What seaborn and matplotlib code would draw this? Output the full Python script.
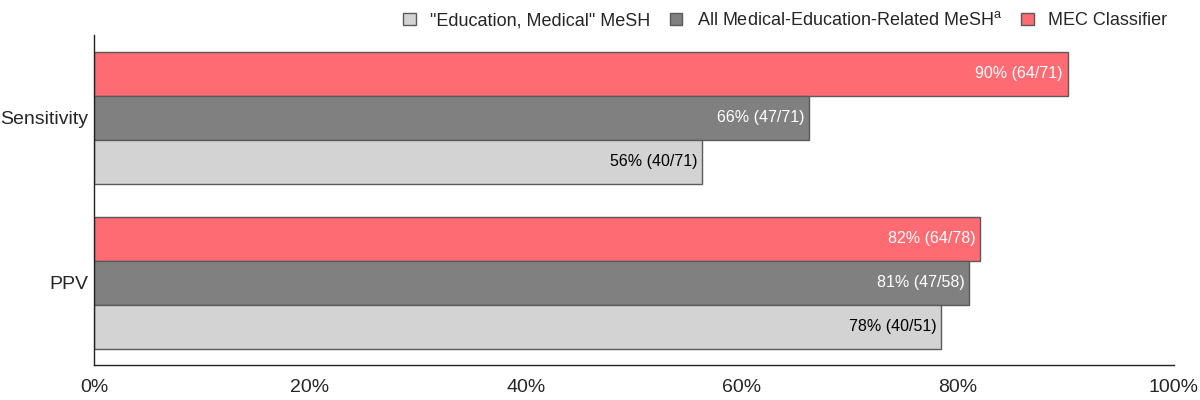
import pandas as pd
import numpy as np
import seaborn as sns
import matplotlib.pyplot as plt
from matplotlib.patches import Patch
from matplotlib.ticker import PercentFormatter

# data
metrics = ['Sensitivity', 'PPV']
series = ['MEC Classifier', 'All Medical-Education-Related MeSH', '"Education, Medical" MeSH']
hits = {
    'MEC Classifier': [64, 64],
    'All Medical-Education-Related MeSH': [47, 47],
    '"Education, Medical" MeSH': [40, 40],
}
totals = {
    'MEC Classifier': [71, 78],
    'All Medical-Education-Related MeSH': [71, 58],
    '"Education, Medical" MeSH': [71, 51],
}
colors = {
    'MEC Classifier': '#ff6b73',
    'All Medical-Education-Related MeSH': '#808080',
    '"Education, Medical" MeSH': '#d3d3d3',
}
label_colors = {
    'MEC Classifier': 'white',
    'All Medical-Education-Related MeSH': 'white',
    '"Education, Medical" MeSH': 'black',
}
legend_names = {
    'MEC Classifier': 'MEC Classifier',
    'All Medical-Education-Related MeSH': 'All Medical-Education-Related MeSH$^{\\mathregular{a}}$',
    '"Education, Medical" MeSH': '"Education, Medical" MeSH',
}

rows = []
for s in series:
    for m, h, t in zip(metrics, hits[s], totals[s]):
        rows.append({'metric': m, 'series': s, 'hits': h, 'total': t, 'value': h / t * 100})
df = pd.DataFrame(rows)

sns.set_style('white')
plt.rcParams['font.family'] = ['Liberation Sans', 'DejaVu Sans']

fig = plt.figure(figsize=(12, 4), dpi=100)
ax = fig.add_axes([94 / 1200, 35 / 400, 1080 / 1200, 330 / 400])

sns.barplot(data=df, y='metric', x='value', hue='series', hue_order=series,
            order=metrics, palette=colors, saturation=1, width=0.8,
            edgecolor='#5a5a5a', linewidth=1, legend=False, ax=ax)

# value labels inside the bar ends
for s, cont in zip(series, ax.containers):
    sub = df[df['series'] == s].set_index('metric').loc[metrics]
    for bar, (_, r) in zip(cont, sub.iterrows()):
        txt = f"{round(r['value']):.0f}% ({r['hits']}/{r['total']})"
        ax.annotate(txt, (bar.get_width(), bar.get_y() + bar.get_height() / 2),
                    xytext=(-3.5, 0), textcoords='offset points',
                    ha='right', va='center', fontsize=11.5, color=label_colors[s])

ax.set_xlim(0, 100)
ax.set_ylim(1.5, -0.5)
ax.set_xticks([0, 20, 40, 60, 80, 100])
ax.xaxis.set_major_formatter(PercentFormatter(decimals=0))
ax.set_xlabel('')
ax.set_ylabel('')
ax.tick_params(axis='x', length=4, width=1, color='#333333', labelsize=14, pad=6)
ax.tick_params(axis='y', length=0, labelsize=14, pad=4)
sns.despine(ax=ax)
for sp in ['left', 'bottom']:
    ax.spines[sp].set_color('#222222')
    ax.spines[sp].set_linewidth(1)

handles = [Patch(facecolor=colors[s], edgecolor='#5a5a5a', linewidth=1, label=legend_names[s])
           for s in series[::-1]]
ax.legend(handles=handles, ncol=3, loc='lower right', bbox_to_anchor=(1.002, 0.99),
          frameon=False, fontsize=13, handlelength=0.7, handleheight=0.7,
          handletextpad=0.8, columnspacing=1.05, borderaxespad=0.1)

plt.savefig('out.png', dpi=100)
